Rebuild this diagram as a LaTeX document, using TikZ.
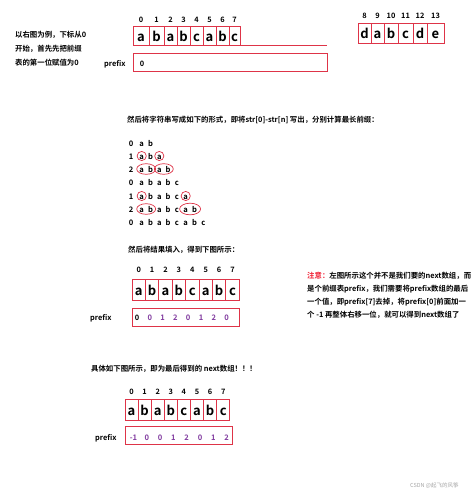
\documentclass[tikz,border=0pt]{standalone}
\usepackage{fontspec}
\setmainfont{Noto Sans CJK SC}[BoldFont={Noto Sans CJK SC Bold}]
\definecolor{boxred}{RGB}{222,52,72}
\definecolor{vals}{RGB}{130,60,160}
\definecolor{notered}{RGB}{240,30,50}
\tikzset{
  bx/.style={draw=boxred, line width=1pt},
  ring/.style={draw=boxred, line width=0.7pt},
  txt/.style={font=\bfseries\fontsize{7.4}{9}\selectfont, anchor=base west, inner sep=0},
  idx/.style={font=\bfseries\fontsize{7.4}{9}\selectfont, anchor=base, inner sep=0},
  cellchar/.style={font=\bfseries\fontsize{13}{14}\selectfont, anchor=base, inner sep=0},
  rowchar/.style={font=\bfseries\fontsize{7.6}{9}\selectfont, anchor=base, inner sep=0},
  valtxt/.style={font=\bfseries\fontsize{7.6}{9}\selectfont, anchor=base, inner sep=0, text=vals},
}
\begin{document}
\begin{tikzpicture}[x=1pt,y=-1pt]
\useasboundingbox[fill=white] (0,0) rectangle (474,491);

% ---------- top-left explanation ----------
\node[txt] (t1) at (15,37) {以右图为例，下标从0};
\node[txt] (t2) at (15,51) {开始，首先先把前缀};
\node[txt] (t3) at (15,65) {表的第一位赋值为0};

% ---------- top array ----------
\foreach \l/\r/\c [count=\i from 0] in {133/149/a,149/164/b,164/177/a,177/190/b,190/203/c,203/216/a,216/229/b,229/240/c}{
  \draw[bx] (\l,26) rectangle (\r,45);
  \node[cellchar] (ta\i) at ({(\l+\r)/2},41.5) {\c};
  \node[idx] (ti\i) at ({(\l+\r)/2},22) {\i};
}
\coordinate (tl1) at (240,45);
\coordinate (tl2) at (327,45);
\draw[bx] (tl1) -- (tl2);
\draw[bx] (133,53) rectangle (327,71);
\node[txt] (tp) at (104,66) {prefix};
\node[idx] (tp0) at (142,66) {0};

% ---------- top-right array ----------
\foreach \l/\r/\c/\n [count=\i] in {358/371/d/8,371/384/a/9,384/398/b/10,398/413/c/11,413/427/d/12,427/444/e/13}{
  \draw[bx] (\l,23) rectangle (\r,43);
  \node[cellchar] (ra\i) at ({(\l+\r)/2},38.5) {\c};
  \node[idx] (ri\i) at ({(\l+\r)/2},18.5) {\n};
}

% ---------- prefix explanation ----------
\node[txt] (h1) at (127,122) {然后将字符串写成如下的形式，即将str[0]-str[n] 写出，分别计算最长前缀：};

\foreach \row/\num/\word in {143/0/{a,b},156/1/{a,b,a},169/2/{a,b,a,b},182/0/{a,b,a,b,c},196/1/{a,b,a,b,c,a},209/2/{a,b,a,b,c,a,b},222/0/{a,b,a,b,c,a,b,c}}{
  \node[rowchar] at (131,\row+3) {\num};
  \foreach \ch [count=\k from 0] in \word {
    \node[rowchar] at (141.7+8.8*\k,\row+3) {\ch};
  }
}
\draw[ring] (141.7,156) circle (4.6);
\draw[ring] (159.3,156) circle (4.6);
\draw[ring] (146.2,169) ellipse (9.5 and 5.3);
\draw[ring] (163.8,169) ellipse (9.5 and 5.3);
\draw[ring] (141.7,196) circle (4.6);
\draw[ring] (185.7,196) circle (4.6);
\draw[ring] (146.2,209) ellipse (9.5 and 5.3);
\draw[ring] (190.1,209) ellipse (10.5 and 5.8);

\node[txt] (h2) at (128,252) {然后将结果填入，得到下图所示：};

% ---------- middle array ----------
\foreach \c [count=\i from 0] in {a,b,a,b,c,a,b,c}{
  \draw[bx] (132+13.4*\i,279) rectangle (145.4+13.4*\i,300);
  \node[cellchar] (ma\i) at (138.7+13.4*\i,295) {\c};
  \node[idx] (mi\i) at (138.7+13.4*\i,272.5) {\i};
}
\draw[bx] (132,308) rectangle (239,326);
\node[txt] (mp) at (90,320) {prefix};
\node[idx] (mv0) at (137,320) {0};
\foreach \v [count=\i] in {0,1,2,0,1,2,0}{
  \node[valtxt] (mv\i) at (137+12.8*\i,320) {\v};
}

% ---------- note ----------
\node[txt] (n1) at (307,278) {\textcolor{notered}{注意：}左图所示这个并不是我们要的next数组，而};
\node[txt] (n2) at (307,291) {是个前缀表prefix，我们需要将prefix数组的最后};
\node[txt] (n3) at (307,304.5) {一个值，即prefix[7]去掉，将prefix[0]前面加一};
\node[txt] (n4) at (307,317.5) {个 -1 再整体右移一位，就可以得到next数组了};

% ---------- bottom ----------
\node[txt] (h3) at (91,371) {具体如下图所示，即为最后得到的 next数组！！！};
\foreach \c [count=\i from 0] in {a,b,a,b,c,a,b,c}{
  \draw[bx] (125+13.1*\i,399) rectangle (138.1+13.1*\i,420);
  \node[cellchar] (ba\i) at (131.5+13.1*\i,415) {\c};
  \node[idx] (bi\i) at (131.5+13.1*\i,394.5) {\i};
}
\draw[bx] (125,426) rectangle (232,444);
\node[txt] (bp) at (95,440.5) {prefix};
\foreach \v [count=\i from 0] in {-1,0,0,1,2,0,1,2}{
  \node[valtxt] (bv\i) at (133.5+13.3*\i,440.5) {\v};
}

\node[font=\fontsize{5.5}{6}\selectfont, text=black!35, anchor=base west, inner sep=0] (wm) at (410,487) {CSDN @起飞的风筝};
\end{tikzpicture}
\end{document}
